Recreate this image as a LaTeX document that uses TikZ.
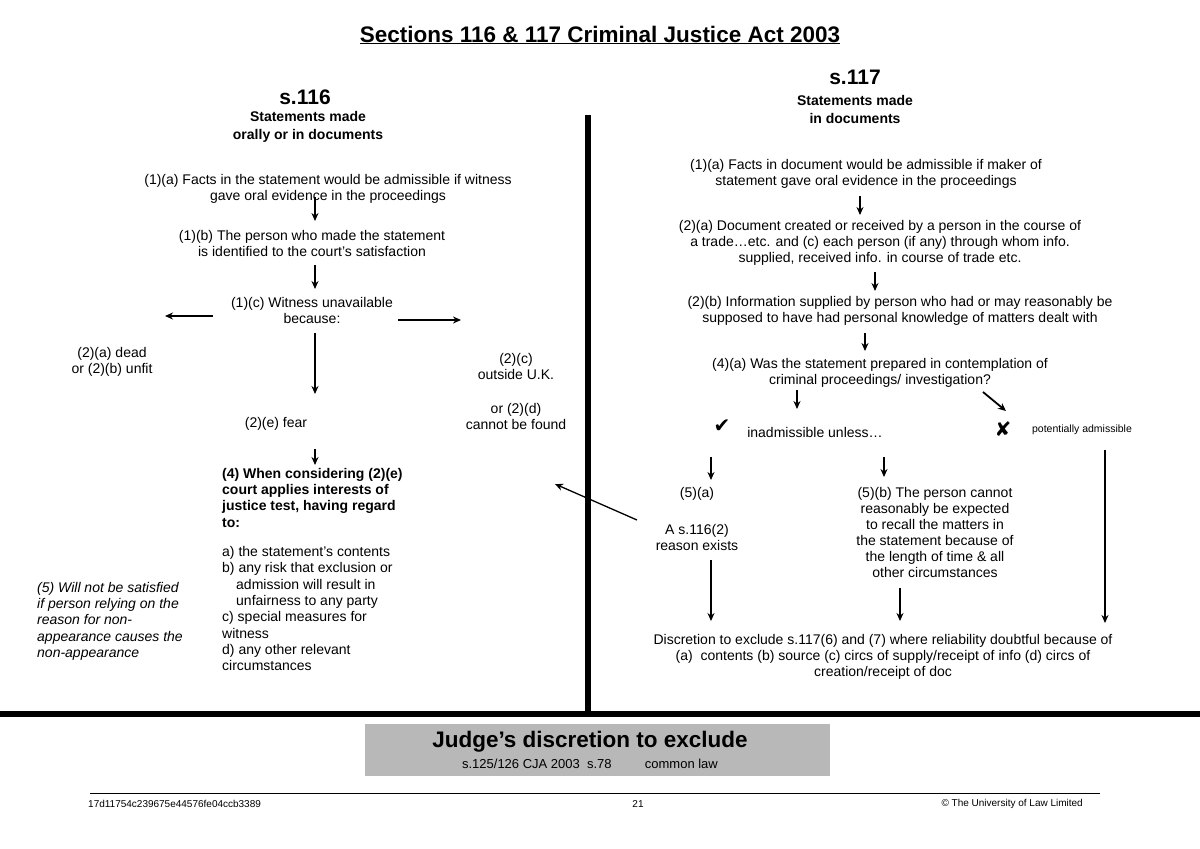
\documentclass[tikz,border=0pt]{standalone}
\usepackage{fontspec}
\setmainfont{Liberation Sans}
\newfontfamily\symf{DejaVu Sans}
\usetikzlibrary{arrows.meta}
\begin{document}
\begin{tikzpicture}[x=1pt,y=-1pt,
  t/.style={align=center,font=\fontsize{14}{16}\selectfont,inner sep=0pt},
  tl/.style={align=left,font=\fontsize{14}{16.3}\selectfont,inner sep=0pt,anchor=north west},
  hd/.style={align=center,font=\bfseries\fontsize{14}{18}\selectfont,inner sep=0pt},
  ar/.style={line width=1.8pt,-{Stealth[length=8pt,width=7pt]}}]
\useasboundingbox (0,0) rectangle (1200,849);
\fill[white] (0,0) rectangle (1200,849);
\node[inner sep=0pt,font=\bfseries\fontsize{22.5}{24}\selectfont] (title) at (600,35) {\underline{Sections 116 \& 117 Criminal Justice Act 2003}};
% headings
\node[hd,font=\bfseries\fontsize{21}{22}\selectfont] (h116) at (305,97) {s.116};
\node[hd] (s116) at (308,127) {Statements made\\orally or in documents};
\node[hd,font=\bfseries\fontsize{21}{22}\selectfont] (h117) at (855,77) {s.117};
\node[hd] (s117) at (855,109) {Statements made\\in documents};
% thick lines
\draw[line width=6pt] (588,115) -- (588,712);
\draw[line width=6pt] (0,714) -- (1200,714);
\fill[black!28] (365,724) rectangle (830,776);
\node[inner sep=0pt,font=\bfseries\fontsize{22.5}{24}\selectfont] (jd) at (590,742) {Judge’s discretion to exclude};
\node[t,font=\fontsize{13}{15}\selectfont] (jds) at (590,764) {s.125/126 CJA 2003\ \ s.78\qquad\ \ common law};
% footer
\draw[line width=0.5pt] (90,793) -- (1100,793);
\node[t,font=\fontsize{10}{11}\selectfont,anchor=west] (f1) at (88,804) {17d11754c239675e44576fe04ccb3389};
\node[t,font=\fontsize{10}{11}\selectfont] (f2) at (638,804) {21};
\node[t,font=\fontsize{10}{11}\selectfont,anchor=east] (f3) at (1083,804) {© The University of Law Limited};
% left
\node[t] (l1a) at (328,189) {(1)(a) Facts in the statement would be admissible if witness\\gave oral evidence in the proceedings};
\node[t] (l1b) at (312,243) {(1)(b) The person who made the statement\\is identified to the court’s satisfaction};
\node[t] (l1c) at (312,310) {(1)(c) Witness unavailable\\because:};
\node[t] (l2a) at (112,362) {(2)(a) dead\\or (2)(b) unfit};
\node[t] (l2c) at (516,366) {(2)(c)\\outside U.K.};
\node[t] (l2d) at (516,416) {or (2)(d)\\cannot be found};
\node[t] (l2e) at (276,424) {(2)(e) fear};
\node[tl] (l4) at (222,468) {\textbf{(4) When considering (2)(e)}\\\textbf{court applies interests of}\\\textbf{justice test, having regard}\\\textbf{to:}\\[13pt]a) the statement’s contents\\b) any risk that exclusion or\\\hspace*{1em}admission will result in\\\hspace*{1em}unfairness to any party\\c) special measures for\\witness\\d) any other relevant\\circumstances};
\node[tl,font=\itshape\fontsize{14}{16.3}\selectfont] (l5) at (37,582) {(5) Will not be satisfied\\if person relying on the\\reason for non-\\appearance causes the\\non-appearance};
\draw[ar] (315,197) -- (315,221);
\draw[ar] (315,265) -- (315,289);
\draw[ar] (213,316) -- (165,316);
\draw[ar] (398,320) -- (461,320);
\draw[ar] (315,333) -- (315,394);
\draw[ar] (315,449) -- (315,465);
\draw[line width=1.3pt,-{Stealth[length=8pt,width=7pt]}] (637,520) -- (555,484);
% right
\node[t] (r1a) at (866,174) {(1)(a) Facts in document would be admissible if maker of\\statement gave oral evidence in the proceedings};
\node[t] (r2a) at (880,243) {(2)(a) Document created or received by a person in the course of\\a trade…etc. and (c) each person (if any) through whom info.\\supplied, received info. in course of trade etc.};
\node[t] (r2b) at (900,311) {(2)(b) Information supplied by person who had or may reasonably be\\supposed to have had personal knowledge of matters dealt with};
\node[t] (r4a) at (880,373) {(4)(a) Was the statement prepared in contemplation of\\criminal proceedings/ investigation?};
\node[inner sep=0pt,font=\symf\fontsize{20}{20}\selectfont] (tick) at (722,426) {✔};
\node[t] (inad) at (815,432) {inadmissible unless…};
\node[inner sep=0pt,font=\symf\fontsize{20}{20}\selectfont] (cross) at (1003,429) {✘};
\node[t,font=\fontsize{10.5}{11}\selectfont] (pot) at (1082,430) {potentially admissible};
\node[t] (r5a) at (697,494) {(5)(a)};
\node[t] (r5as) at (697,537) {A s.116(2)\\reason exists};
\node[t] (r5b) at (935,532) {(5)(b) The person cannot\\reasonably be expected\\to recall the matters in\\the statement because of\\the length of time \& all\\other circumstances};
\node[t] (disc) at (883,657) {Discretion to exclude s.117(6) and (7) where reliability doubtful because of\\(a)\ \ contents (b) source (c) circs of supply/receipt of info (d) circs of\\creation/receipt of doc};
\draw[ar] (860,196) -- (860,215);
\draw[ar] (875,272) -- (875,291);
\draw[ar] (865,333) -- (865,351);
\draw[ar] (797,390) -- (797,409);
\draw[ar] (983,392) -- (1006,411);
\draw[ar] (711,457) -- (711,480);
\draw[ar] (884,457) -- (884,477);
\draw[ar] (711,560) -- (711,621);
\draw[ar] (900,588) -- (900,621);
\draw[ar] (1105,450) -- (1105,623);
\end{tikzpicture}
\end{document}
